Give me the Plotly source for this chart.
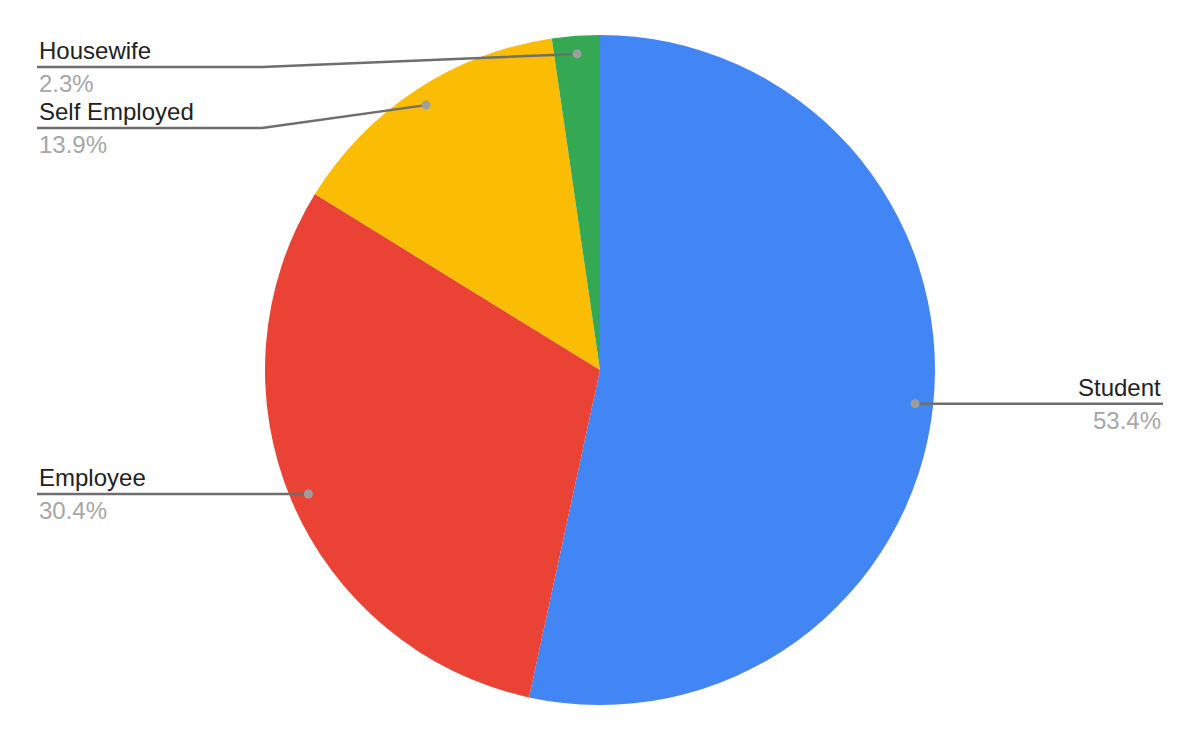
import numpy as np
import plotly.graph_objects as go

labels = ["Student", "Employee", "Self Employed", "Housewife"]
values = [53.4, 30.4, 13.9, 2.3]
colors = ["#4285F4", "#EA4335", "#FBBC04", "#34A853"]

W, H = 1200, 742
off = 8  # page body margin shifts the figure
cx, cy, R = 600 - off, 370 - off, 335  # pie centre and radius in figure pixels
dot_r = 0.946 * R
left_x, right_x = 37 - off, 1163 - off
gap, top_min = 61, 67 - off


def px(x):
    return x / W


def py(y):
    return 1 - y / H


fig = go.Figure(
    go.Pie(
        labels=labels,
        values=values,
        sort=False,
        direction="clockwise",
        rotation=0,
        marker=dict(colors=colors, line=dict(width=0)),
        textinfo="none",
        hoverinfo="label+percent",
        showlegend=False,
        domain=dict(x=[px(cx - R), px(cx + R)], y=[py(cy + R), py(cy - R)]),
    )
)

# leader lines and labels, placed from each slice's mid angle
total = sum(values)
start = 0.0
points = []
for lab, val in zip(labels, values):
    ang = start + val / total * 180
    start += val / total * 360
    a = np.radians(ang)
    points.append((lab, val, cx + dot_r * np.sin(a), cy - dot_r * np.cos(a), ang < 180))

shapes, annotations = [], []
for side in (True, False):
    pts = sorted([p for p in points if p[4] == side], key=lambda p: p[3])
    prev = -1e9
    for lab, val, dx, dy, right in pts:
        ly = max(dy, prev + gap, top_min)
        prev = ly
        end_x = right_x if right else left_x
        elbow_x = cx + R if right else cx - R - 3
        if abs(ly - dy) < 1:
            path = f"M {px(dx)},{py(dy)} L {px(end_x)},{py(ly)}"
        else:
            path = f"M {px(dx)},{py(dy)} L {px(elbow_x)},{py(ly)} L {px(end_x)},{py(ly)}"
        shapes.append(dict(type="path", xref="paper", yref="paper", path=path,
                           line=dict(color="#6E6E6E", width=2.5), layer="above"))
        shapes.append(dict(type="circle", xref="paper", yref="paper",
                           x0=px(dx - 4.5), x1=px(dx + 4.5), y0=py(dy + 4.5), y1=py(dy - 4.5),
                           fillcolor="#9E9E9E", line=dict(width=0), layer="above"))
        anchor = "right" if right else "left"
        annotations.append(dict(x=px(end_x), y=py(ly - 1), xref="paper", yref="paper",
                                text=lab, showarrow=False, xanchor=anchor, yanchor="bottom",
                                font=dict(size=24, color="#222222")))
        annotations.append(dict(x=px(end_x), y=py(ly + 1), xref="paper", yref="paper",
                                text=f"{val}%", showarrow=False, xanchor=anchor, yanchor="top",
                                font=dict(size=24, color="#A6A6A6")))

fig.update_layout(
    width=W,
    height=H,
    margin=dict(l=0, r=0, t=0, b=0),
    paper_bgcolor="white",
    plot_bgcolor="white",
    font=dict(family="Liberation Sans, Arial, sans-serif"),
    shapes=shapes,
    annotations=annotations,
)

fig.write_html("out.html")
